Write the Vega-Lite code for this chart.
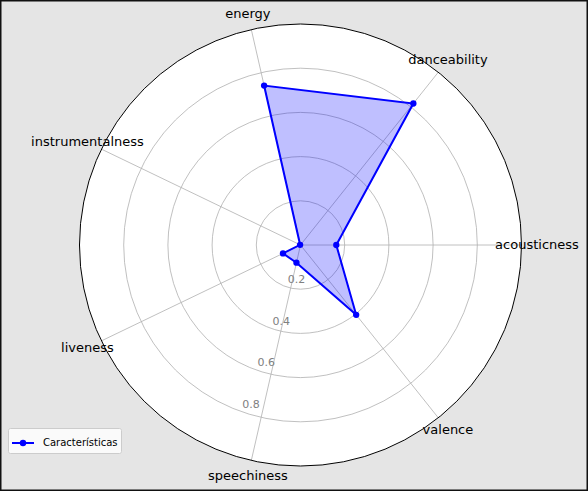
{
  "$schema": "https://vega.github.io/schema/vega-lite/v6.json",
  "width": 588,
  "height": 491,
  "autosize": {"type": "none"},
  "padding": 0,
  "background": "#e5e5e5",
  "config": {
    "view": {"stroke": "#111111", "strokeWidth": 3, "fill": null},
    "font": "DejaVu Sans"
  },
  "datasets": {
    "features": [
      {"feature": "acousticness", "value": 0.162},
      {"feature": "danceability", "value": 0.819},
      {"feature": "energy", "value": 0.74},
      {"feature": "instrumentalness", "value": 0.002},
      {"feature": "liveness", "value": 0.088},
      {"feature": "speechiness", "value": 0.082},
      {"feature": "valence", "value": 0.404}
    ],
    "rings": [{"r": 0.2}, {"r": 0.4}, {"r": 0.6}, {"r": 0.8}],
    "outer": [{"r": 1}]
  },
  "layer": [
    {
      "data": {"name": "outer"},
      "mark": {"type": "point", "shape": "circle", "filled": true, "fill": "#ffffff", "strokeWidth": 0, "opacity": 1},
      "encoding": {
        "x": {"datum": 0, "type": "quantitative", "scale": {"domain": [-1.3597, 1.3009], "nice": false, "zero": false}, "axis": null},
        "y": {"datum": 0, "type": "quantitative", "scale": {"domain": [-1.1131, 1.1086], "nice": false, "zero": false}, "axis": null},
        "size": {"field": "r", "type": "quantitative", "scale": {"type": "pow", "exponent": 2, "domain": [0, 1], "range": [0, 195364]}, "legend": null}
      }
    },
    {
      "data": {"name": "rings"},
      "mark": {"type": "point", "shape": "circle", "filled": false, "stroke": "#b0b0b0", "strokeWidth": 0.8, "opacity": 1},
      "encoding": {
        "x": {"datum": 0, "type": "quantitative", "scale": {"domain": [-1.3597, 1.3009], "nice": false, "zero": false}, "axis": null},
        "y": {"datum": 0, "type": "quantitative", "scale": {"domain": [-1.1131, 1.1086], "nice": false, "zero": false}, "axis": null},
        "size": {"field": "r", "type": "quantitative", "scale": {"type": "pow", "exponent": 2, "domain": [0, 1], "range": [0, 195364]}, "legend": null}
      }
    },
    {
      "data": {"name": "features"},
      "transform": [
        {"window": [{"op": "row_number", "as": "i"}]},
        {"calculate": "(datum.i - 1) * 2 * PI / 7", "as": "a"},
        {"calculate": "cos(datum.a)", "as": "sx"},
        {"calculate": "sin(datum.a)", "as": "sy"},
        {"calculate": "0", "as": "o"}
      ],
      "mark": {"type": "rule", "stroke": "#b0b0b0", "strokeWidth": 0.8},
      "encoding": {
        "x": {"field": "o", "type": "quantitative", "scale": {"domain": [-1.3597, 1.3009], "nice": false, "zero": false}, "axis": null},
        "y": {"field": "o", "type": "quantitative", "scale": {"domain": [-1.1131, 1.1086], "nice": false, "zero": false}, "axis": null},
        "x2": {"field": "sx"},
        "y2": {"field": "sy"}
      }
    },
    {
      "data": {"name": "outer"},
      "mark": {"type": "point", "shape": "circle", "filled": false, "stroke": "#000000", "strokeWidth": 1, "opacity": 1},
      "encoding": {
        "x": {"datum": 0, "type": "quantitative", "scale": {"domain": [-1.3597, 1.3009], "nice": false, "zero": false}, "axis": null},
        "y": {"datum": 0, "type": "quantitative", "scale": {"domain": [-1.1131, 1.1086], "nice": false, "zero": false}, "axis": null},
        "size": {"field": "r", "type": "quantitative", "scale": {"type": "pow", "exponent": 2, "domain": [0, 1], "range": [0, 195364]}, "legend": null}
      }
    },
    {
      "data": {"name": "features"},
      "transform": [
        {"window": [{"op": "row_number", "as": "i"}]},
        {"calculate": "(datum.i - 1) * 2 * PI / 7", "as": "a"},
        {"calculate": "datum.value * cos(datum.a)", "as": "px"},
        {"calculate": "datum.value * sin(datum.a)", "as": "py"}
      ],
      "mark": {"type": "line", "interpolate": "linear-closed", "fill": "#0000ff", "fillOpacity": 0.25, "strokeOpacity": 0},
      "encoding": {
        "x": {"field": "px", "type": "quantitative", "scale": {"domain": [-1.3597, 1.3009], "nice": false, "zero": false}, "axis": null},
        "y": {"field": "py", "type": "quantitative", "scale": {"domain": [-1.1131, 1.1086], "nice": false, "zero": false}, "axis": null},
        "order": {"field": "i", "type": "quantitative"}
      }
    },
    {
      "data": {"name": "features"},
      "transform": [
        {"window": [{"op": "row_number", "as": "i"}]},
        {"calculate": "(datum.i - 1) * 2 * PI / 7", "as": "a"},
        {"calculate": "datum.value * cos(datum.a)", "as": "px"},
        {"calculate": "datum.value * sin(datum.a)", "as": "py"}
      ],
      "mark": {"type": "line", "interpolate": "linear-closed", "strokeWidth": 2},
      "encoding": {
        "x": {"field": "px", "type": "quantitative", "scale": {"domain": [-1.3597, 1.3009], "nice": false, "zero": false}, "axis": null},
        "y": {"field": "py", "type": "quantitative", "scale": {"domain": [-1.1131, 1.1086], "nice": false, "zero": false}, "axis": null},
        "order": {"field": "i", "type": "quantitative"},
        "color": {
          "datum": "Características",
          "type": "nominal",
          "scale": {"range": ["#0000ff"]},
          "legend": {
            "title": null,
            "orient": "none",
            "legendX": 8,
            "legendY": 428,
            "symbolType": "M-1,0L1,0M-0.2,0A0.2,0.2,0,1,1,0.2,0A0.2,0.2,0,1,1,-0.2,0ZM-0.09,0A0.09,0.09,0,1,1,0.09,0A0.09,0.09,0,1,1,-0.09,0Z",
            "symbolSize": 484,
            "symbolStrokeWidth": 2,
            "symbolStrokeColor": "#0000ff",
            "labelFontSize": 10,
            "labelFont": "DejaVu Sans",
            "labelColor": "#000000",
            "labelOffset": 8,
            "fillColor": "#fafafa",
            "strokeColor": "#cccccc",
            "cornerRadius": 2,
            "padding": 3
          }
        }
      }
    },
    {
      "data": {"name": "features"},
      "transform": [
        {"window": [{"op": "row_number", "as": "i"}]},
        {"calculate": "(datum.i - 1) * 2 * PI / 7", "as": "a"},
        {"calculate": "datum.value * cos(datum.a)", "as": "px"},
        {"calculate": "datum.value * sin(datum.a)", "as": "py"}
      ],
      "mark": {"type": "point", "shape": "circle", "filled": true, "fill": "#0000ff", "size": 40, "opacity": 1, "strokeWidth": 0},
      "encoding": {
        "x": {"field": "px", "type": "quantitative", "scale": {"domain": [-1.3597, 1.3009], "nice": false, "zero": false}, "axis": null},
        "y": {"field": "py", "type": "quantitative", "scale": {"domain": [-1.1131, 1.1086], "nice": false, "zero": false}, "axis": null}
      }
    },
    {
      "data": {"name": "rings"},
      "transform": [
        {"calculate": "datum.r * cos(250 * PI / 180)", "as": "tx"},
        {"calculate": "datum.r * sin(250 * PI / 180)", "as": "ty"}
      ],
      "mark": {"type": "text", "align": "center", "baseline": "middle", "dx": 11, "dy": -6.5, "fontSize": 11, "fill": "#808080", "font": "DejaVu Sans"},
      "encoding": {
        "x": {"field": "tx", "type": "quantitative", "scale": {"domain": [-1.3597, 1.3009], "nice": false, "zero": false}, "axis": null},
        "y": {"field": "ty", "type": "quantitative", "scale": {"domain": [-1.1131, 1.1086], "nice": false, "zero": false}, "axis": null},
        "text": {"field": "r", "type": "quantitative", "format": ".1f"}
      }
    },
    {
      "data": {"name": "features"},
      "transform": [
        {"window": [{"op": "row_number", "as": "i"}]},
        {"calculate": "(datum.i - 1) * 2 * PI / 7", "as": "a"},
        {"calculate": "1.07 * cos(datum.a)", "as": "lx"},
        {"calculate": "1.07 * sin(datum.a)", "as": "ly"}
      ],
      "mark": {"type": "text", "align": "center", "baseline": "middle", "fontSize": 13, "fill": "#000000", "font": "DejaVu Sans"},
      "encoding": {
        "x": {"field": "lx", "type": "quantitative", "scale": {"domain": [-1.3597, 1.3009], "nice": false, "zero": false}, "axis": null},
        "y": {"field": "ly", "type": "quantitative", "scale": {"domain": [-1.1131, 1.1086], "nice": false, "zero": false}, "axis": null},
        "text": {"field": "feature", "type": "nominal"}
      }
    }
  ]
}
